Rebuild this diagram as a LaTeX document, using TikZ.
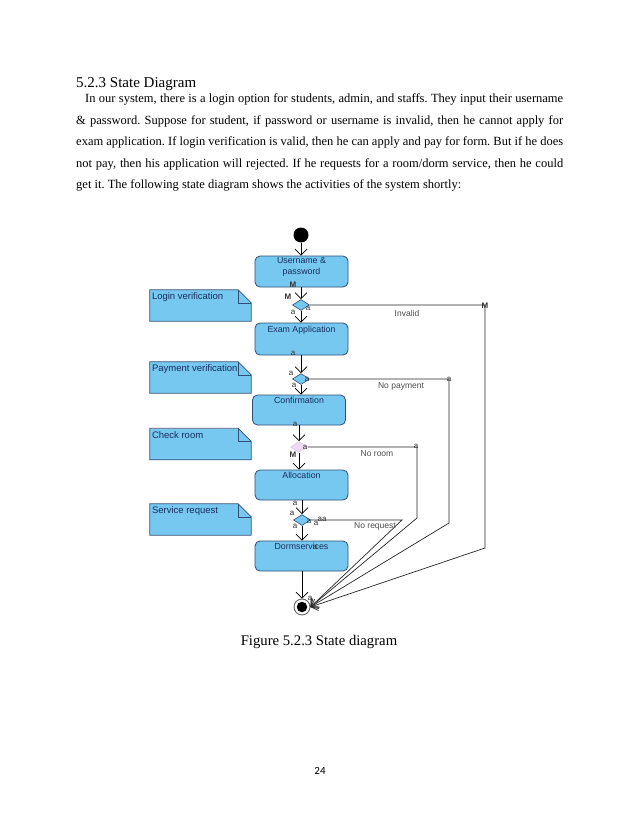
\documentclass[tikz,border=0pt]{standalone}
\usepackage{fontspec}
\setmainfont{Liberation Serif}
\newfontfamily\arialf{Liberation Sans}
\newfontfamily\calf{Carlito}
\usetikzlibrary{arrows.meta,shapes.geometric}
\frenchspacing
\definecolor{stfill}{RGB}{118,200,240}
\definecolor{stdraw}{RGB}{48,78,118}
\definecolor{txtc}{RGB}{25,45,95}
\definecolor{pinkd}{RGB}{236,218,242}
\tikzset{
  stbox/.style={draw=stdraw, fill=stfill, rounded corners=5pt, minimum width=93pt, line width=0.8pt, inner sep=0pt},
  stlbl/.style={font=\arialf\fontsize{8.8}{11}\selectfont, text=txtc, inner sep=0pt, align=center},
  notefill/.style={fill=stfill, draw=none, minimum width=101pt, minimum height=31pt, inner sep=0pt},
  notedraw/.style={draw=stdraw, line width=0.8pt},
  notelbl/.style={font=\arialf\fontsize{9.5}{11}\selectfont, text=txtc, inner sep=0pt},
  dec/.style={diamond, draw=stdraw, fill=stfill, minimum width=17pt, minimum height=11pt, inner sep=0pt, line width=0.6pt},
  trans/.style={draw=black, line width=0.7pt, -{Straight Barb[length=6pt,width=12pt]}},
  ln/.style={draw=black!85, line width=0.7pt},
  tiny/.style={font=\arialf\fontsize{8}{9}\selectfont, text=black!80, inner sep=0pt},
  elbl/.style={font=\arialf\fontsize{8.5}{10}\selectfont, text=black!70, inner sep=0pt},
  body/.style={font=\fontsize{12.5}{14}\selectfont, inner sep=0pt, anchor=base west}
}
\begin{document}
\begin{tikzpicture}[x=1pt,y=-1pt]
\useasboundingbox[fill=white] (0,0) rectangle (638,826);
% text
\node[anchor=base west, inner sep=0pt, font=\fontsize{15}{18}\selectfont] (hd) at (76,88) {5.2.3 State Diagram};
\node[body] (l1) at (85,103) {\makebox[478pt][s]{In our system, there is a login option for students, admin, and staffs. They input their username}};
\node[body] (l2) at (76,124.5) {\makebox[487pt][s]{\& password. Suppose for student, if password or username is invalid, then he cannot apply for}};
\node[body] (l3) at (76,146) {\makebox[487pt][s]{exam application. If login verification is valid, then he can apply and pay for form. But if he does}};
\node[body] (l4) at (76,167.5) {\makebox[487pt][s]{not pay, then his application will rejected. If he requests for a room/dorm service, then he could}};
\node[body] (l5) at (76,189) {get it. The following state diagram shows the activities of the system shortly:};
\node[font=\fontsize{14.7}{17}\selectfont, inner sep=0pt] (cap) at (319,642) {Figure 5.2.3 State diagram};
\node[font=\calf\fontsize{11}{12}\selectfont, inner sep=0pt] (pg) at (320,771) {24};

% notes
\foreach \yy/\t [count=\i] in {305.5/Login verification, 377.5/Payment verification, 444/Check room, 519.5/Service request}{
  \node[notefill] (n\i) at (200.5,\yy) {};
  \fill[white] ([xshift=-13pt]n\i.north east) -- (n\i.north east) -- ([yshift=-13pt]n\i.north east) -- cycle;
  \draw[notedraw] (n\i.north west) -- ([xshift=-13pt]n\i.north east) -- ([yshift=-13pt]n\i.north east) -- (n\i.south east) -- (n\i.south west) -- cycle;
  \draw[notedraw, line width=0.6pt] ([xshift=-13pt]n\i.north east) -- ([xshift=-13pt,yshift=-13pt]n\i.north east) -- ([yshift=-13pt]n\i.north east);
  \node[notelbl, anchor=north west] (nt\i) at ([xshift=2pt,yshift=-3pt]n\i.north west) {\t};
}

% states
\node[stbox, minimum height=31pt] (s1) at (301.5,271.5) {};
\node[stlbl, anchor=north] (t1) at ([yshift=-2pt]s1.north) {Username \&\\password};
\node[stbox, minimum height=32pt] (s2) at (301.5,339) {};
\node[stlbl, anchor=north] (t2) at ([yshift=-3pt]s2.north) {Exam Application};
\node[stbox, minimum height=30pt] (s3) at (299,410) {};
\node[stlbl, anchor=north] (t3) at ([yshift=-2pt]s3.north) {Confirmation};
\node[stbox, minimum height=30pt] (s4) at (301.5,485) {};
\node[stlbl, anchor=north] (t4) at ([yshift=-2pt]s4.north) {Allocation};
\node[stbox, minimum height=30pt] (s5) at (301.5,556) {};
\node[stlbl, anchor=north] (t5) at ([yshift=-2pt]s5.north) {Dormservices};

% pseudo states
\node[circle, fill=black, minimum size=15pt, inner sep=0pt] (init) at (301,235) {};
\node[dec] (d1) at (301,305) {};
\node[dec] (d2) at (301,379) {};
\node[dec, fill=pinkd, draw=pinkd!85!gray] (d3) at (299,447) {};
\node[dec] (d4) at (302,520) {};
\node[circle, draw=black!60, fill=white, line width=0.9pt, minimum size=16pt, inner sep=0pt] (fin) at (302,607) {};
\node[circle, fill=black, minimum size=10.5pt, inner sep=0pt] (finin) at (fin.center) {};

% main flow
\draw[trans] (init) -- (init |- s1.north);
\draw[trans] (s1.south -| d1) -- (d1.north);
\draw[trans] (d1.south) -- (d1 |- s2.north);
\draw[trans] (s2.south -| d2) -- (d2.north);
\draw[trans] (d2.south) -- (d2 |- s3.north);
\draw[trans] (s3.south -| d3) -- (d3.north);
\draw[trans] (d3.south) -- (d3 |- s4.north);
\draw[trans] (s4.south -| d4) -- (d4.north);
\draw[trans] (d4.south) -- (d4 |- s5.north);
\draw[trans] (s5.south -| fin) -- (fin.north);

% branches
\coordinate (r1a) at (485,305);
\coordinate (r1b) at (485,548);
\coordinate (r2a) at (449,379);
\coordinate (r2b) at (449,523);
\coordinate (r3a) at (417,447);
\coordinate (r3b) at (417,518);
\coordinate (r4a) at (402,520);
\draw[ln, -{Straight Barb[length=6pt,width=12pt]}] (d1.east) -- (r1a) -- (r1b) -- (fin.east);
\draw[ln, -{Straight Barb[length=6pt,width=12pt]}] (d2.east) -- (r2a) -- (r2b) -- (fin.east);
\draw[ln, -{Straight Barb[length=6pt,width=12pt]}] (d3.east) -- (r3a) -- (r3b) -- (fin.east);
\draw[ln, -{Straight Barb[length=6pt,width=12pt]}] (d4.east) -- (r4a) -- (fin.east);

\node[elbl] (e1) at (407,313) {Invalid};
\node[elbl] (e2) at (401,386) {No payment};
\node[elbl] (e3) at (377,453.5) {No room};
\node[elbl] (e4) at (375,526.5) {No request};

% small labels
\foreach \x/\y/\t [count=\i] in {293/285/\textbf{M}, 288/297/\textbf{M}, 293/312/a, 308/308/a, 485/306/\textbf{M},
  293/353/a, 291/373/a, 307/379/a, 294/385/a, 449/379/a,
  295/424/a, 305/447/a, 293/454.5/\textbf{M}, 416/446/a,
  295/503/a, 292/513/a, 295/526/a, 309/521/a, 316/523.5/a, 322/519/aa,
  315/547/a, 310/598/a}{
  \node[tiny] (sm\i) at (\x,\y) {\t};
}
\end{tikzpicture}
\end{document}
